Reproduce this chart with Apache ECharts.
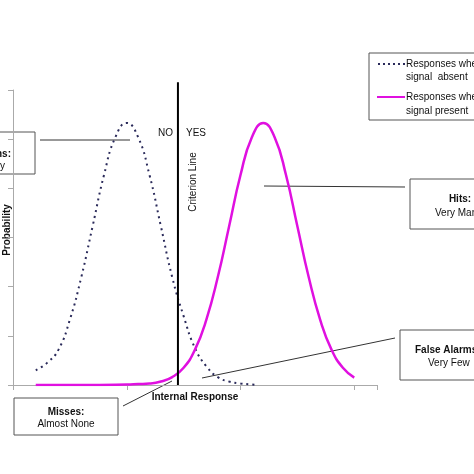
<!DOCTYPE html>
<html><head><meta charset="utf-8">
<script src="https://cdn.jsdelivr.net/npm/echarts@6/dist/echarts.min.js"></script>
<style>html,body{margin:0;padding:0;background:#fff}#c{width:474px;height:474px}</style>
</head><body><div id="c"></div>
<script>
// values
const noiseX = [0.2,0.3,0.4,0.5,0.6,0.7,0.8,0.9,1.0,1.1,1.2,1.3,1.4,1.5,1.6,1.7,1.8,1.9,2.0,2.1,2.15];
const noiseY = [0.3,0.45,0.72,1.33,2.19,3.23,4.27,5.04,5.33,5.04,4.27,3.23,2.19,1.4,0.75,0.38,0.16,0.07,0.03,0.01,0];
const signalX = [0.2,0.6,1.0,1.1,1.2,1.3,1.4,1.5,1.6,1.7,1.8,1.9,2.0,2.1,2.2,2.3,2.4,2.5,2.6,2.7,2.8,2.9,3.0];
const signalY = [0,0,0.01,0.02,0.03,0.07,0.16,0.35,0.72,1.33,2.19,3.23,4.27,5.04,5.33,5.04,4.27,3.23,2.19,1.33,0.72,0.35,0.15];
const criterion = 1.45;
const criterionTop = 6.16;

const zip = (xs, ys) => xs.map((x, i) => [x, ys[i]]);
const chart = echarts.init(document.getElementById('c'));
const font = 'Liberation Sans, Arial, sans-serif';
const t = (x, y, text, o) => ({type: 'text', x, y, style: Object.assign({text, fill: '#111', font: '10px ' + font, textVerticalAlign: 'middle'}, o || {})});
const box = (x, y, w, h) => ({type: 'rect', shape: {x, y, width: w, height: h}, style: {fill: '#fff', stroke: '#555', lineWidth: 1}});
const ln = (x1, y1, x2, y2, extra) => ({type: 'line', shape: {x1, y1, x2, y2}, style: Object.assign({stroke: '#333', lineWidth: 1}, extra || {})});

chart.setOption({
  animation: false,
  grid: {left: 13, right: 97, top: 90, bottom: 89},
  xAxis: {type: 'value', min: 0, max: 3.2, interval: 1,
    axisLine: {lineStyle: {color: '#aaa'}}, axisTick: {lineStyle: {color: '#aaa'}},
    axisLabel: {show: false}, splitLine: {show: false}},
  yAxis: {type: 'value', min: 0, max: 6, interval: 1,
    axisLine: {show: true, lineStyle: {color: '#aaa'}}, axisTick: {show: true, lineStyle: {color: '#aaa'}},
    axisLabel: {show: false}, splitLine: {show: false}},
  series: [
    {type: 'line', data: zip(noiseX, noiseY), smooth: true, symbol: 'none',
      lineStyle: {color: '#2a2a5a', width: 2, type: [2, 4]}},
    {type: 'line', data: zip(signalX, signalY), smooth: true, symbol: 'none',
      lineStyle: {color: '#e010e0', width: 2.5}},
    {type: 'line', data: [[criterion, 0], [criterion, criterionTop]], symbol: 'none', clip: false,
      lineStyle: {color: '#000', width: 2}}
  ],
  graphic: [
    Object.assign(t(7, 230, 'Probability', {font: 'bold 10px ' + font, textAlign: 'center'}), {rotation: Math.PI / 2}),
    t(195, 397, 'Internal Response', {font: 'bold 10px ' + font, textAlign: 'center'}),
    t(158, 133, 'NO'),
    t(186, 133, 'YES'),
    Object.assign(t(193, 182, 'Criterion Line', {textAlign: 'center'}), {rotation: Math.PI / 2}),
    // legend
    box(369, 53, 120, 67),
    ln(378, 64, 405, 64, {stroke: '#2a2a5a', lineWidth: 2, lineDash: [2, 3]}),
    t(406, 64, 'Responses when'), t(406, 77, 'signal  absent'),
    ln(377, 97, 405, 97, {stroke: '#e010e0', lineWidth: 2}),
    t(406, 97, 'Responses when'), t(406, 111, 'signal present'),
    // correct rejections
    ln(40, 140, 130, 140),
    box(-80, 132, 115, 42),
    t(11, 154, 'Correct Rejections:', {font: 'bold 10px ' + font, textAlign: 'right'}),
    t(5, 166, 'Very Many', {textAlign: 'right'}),
    // hits
    ln(264, 186, 405, 187),
    box(410, 179, 90, 50),
    t(460, 199, 'Hits:', {font: 'bold 10px ' + font, textAlign: 'center'}),
    t(435, 213, 'Very Many'),
    // false alarms
    ln(202, 378, 395, 338),
    box(400, 330, 90, 50),
    t(415, 350, 'False Alarms:', {font: 'bold 10px ' + font}),
    t(428, 363, 'Very Few'),
    // misses
    ln(123, 406, 172, 381),
    box(14, 398, 104, 37),
    t(66, 412, 'Misses:', {font: 'bold 10px ' + font, textAlign: 'center'}),
    t(66, 424, 'Almost None', {textAlign: 'center'})
  ]
});
</script></body></html>
